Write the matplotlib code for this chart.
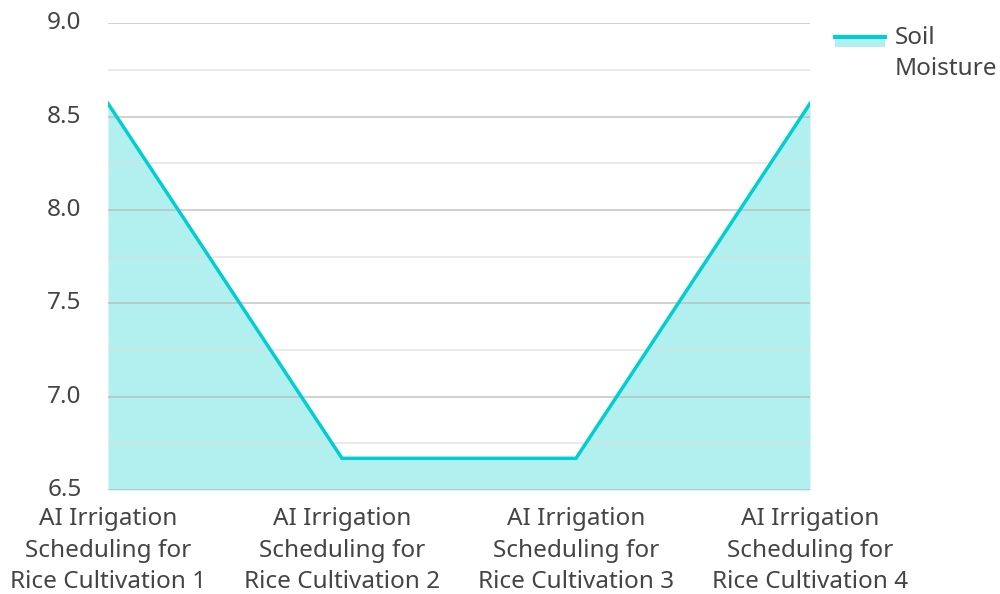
import matplotlib
matplotlib.use("Agg")
import matplotlib.pyplot as plt
from matplotlib.patches import Rectangle
from matplotlib.lines import Line2D
from matplotlib.legend_handler import HandlerBase
from matplotlib.ticker import MultipleLocator

plt.rcParams['font.family'] = ['Noto Sans', 'DejaVu Sans']

categories = [
    "AI Irrigation\nScheduling for\nRice Cultivation 1",
    "AI Irrigation\nScheduling for\nRice Cultivation 2",
    "AI Irrigation\nScheduling for\nRice Cultivation 3",
    "AI Irrigation\nScheduling for\nRice Cultivation 4",
]
soil_moisture = [8.57, 6.67, 6.67, 8.57]
series_name = "Soil\nMoisture"

line_color = "#00CED1"
fill_color = "#B2EFEF"
text_color = "#444444"


class AreaHandler(HandlerBase):
    """Legend key: filled box with the series line along its top edge."""

    def create_artists(self, legend, orig_handle, xdescent, ydescent,
                       width, height, fontsize, trans):
        top = height + 0.35 * fontsize
        rect = Rectangle((-xdescent, top - 0.42 * fontsize), width, 0.42 * fontsize,
                         facecolor=fill_color, edgecolor="none", transform=trans)
        line = Line2D([-xdescent, -xdescent + width], [top, top],
                      color=line_color, linewidth=3, transform=trans)
        return [rect, line]


fig = plt.figure(figsize=(10, 5.94), dpi=100)
ax = fig.add_axes([0.108, 0.175, 0.702, 0.786])

x = list(range(len(categories)))
ax.fill_between(x, soil_moisture, 6.5, color=fill_color, linewidth=0, zorder=1)
ax.plot(x, soil_moisture, color=line_color, linewidth=2.5, zorder=3,
        solid_joinstyle="miter")

ax.set_xlim(0, len(categories) - 1)
ax.set_ylim(6.5, 9.0)
ax.yaxis.set_major_locator(MultipleLocator(0.5))
ax.yaxis.set_minor_locator(MultipleLocator(0.25))
ax.grid(which="major", axis="y", color="#b4b4b4", alpha=0.7, linewidth=1.2, zorder=2)
ax.grid(which="minor", axis="y", color="#dcdcdc", alpha=0.7, linewidth=1.2, zorder=2)
ax.set_axisbelow(False)

ax.set_xticks(x)
ax.set_xticklabels(categories, fontsize=17.5, color=text_color, linespacing=1.4)
ax.tick_params(axis="x", length=0, pad=12.5)
ax.tick_params(axis="y", which="both", length=0, labelsize=17.5, labelcolor=text_color, pad=19)
for lbl in ax.get_yticklabels():
    lbl.set_verticalalignment("center")

for s in ax.spines.values():
    s.set_visible(False)

leg = fig.legend([Line2D([], [])], [series_name], loc="upper left",
                 handler_map={Line2D: AreaHandler()},
                 bbox_to_anchor=(0.835, 0.956), frameon=False, fontsize=17.5,
                 labelcolor=text_color, handlelength=2.05, handleheight=0.7,
                 handletextpad=0.41, borderaxespad=0, borderpad=0)
for t in leg.get_texts():
    t.set_linespacing(1.375)

fig.savefig("out.png", dpi=100)
